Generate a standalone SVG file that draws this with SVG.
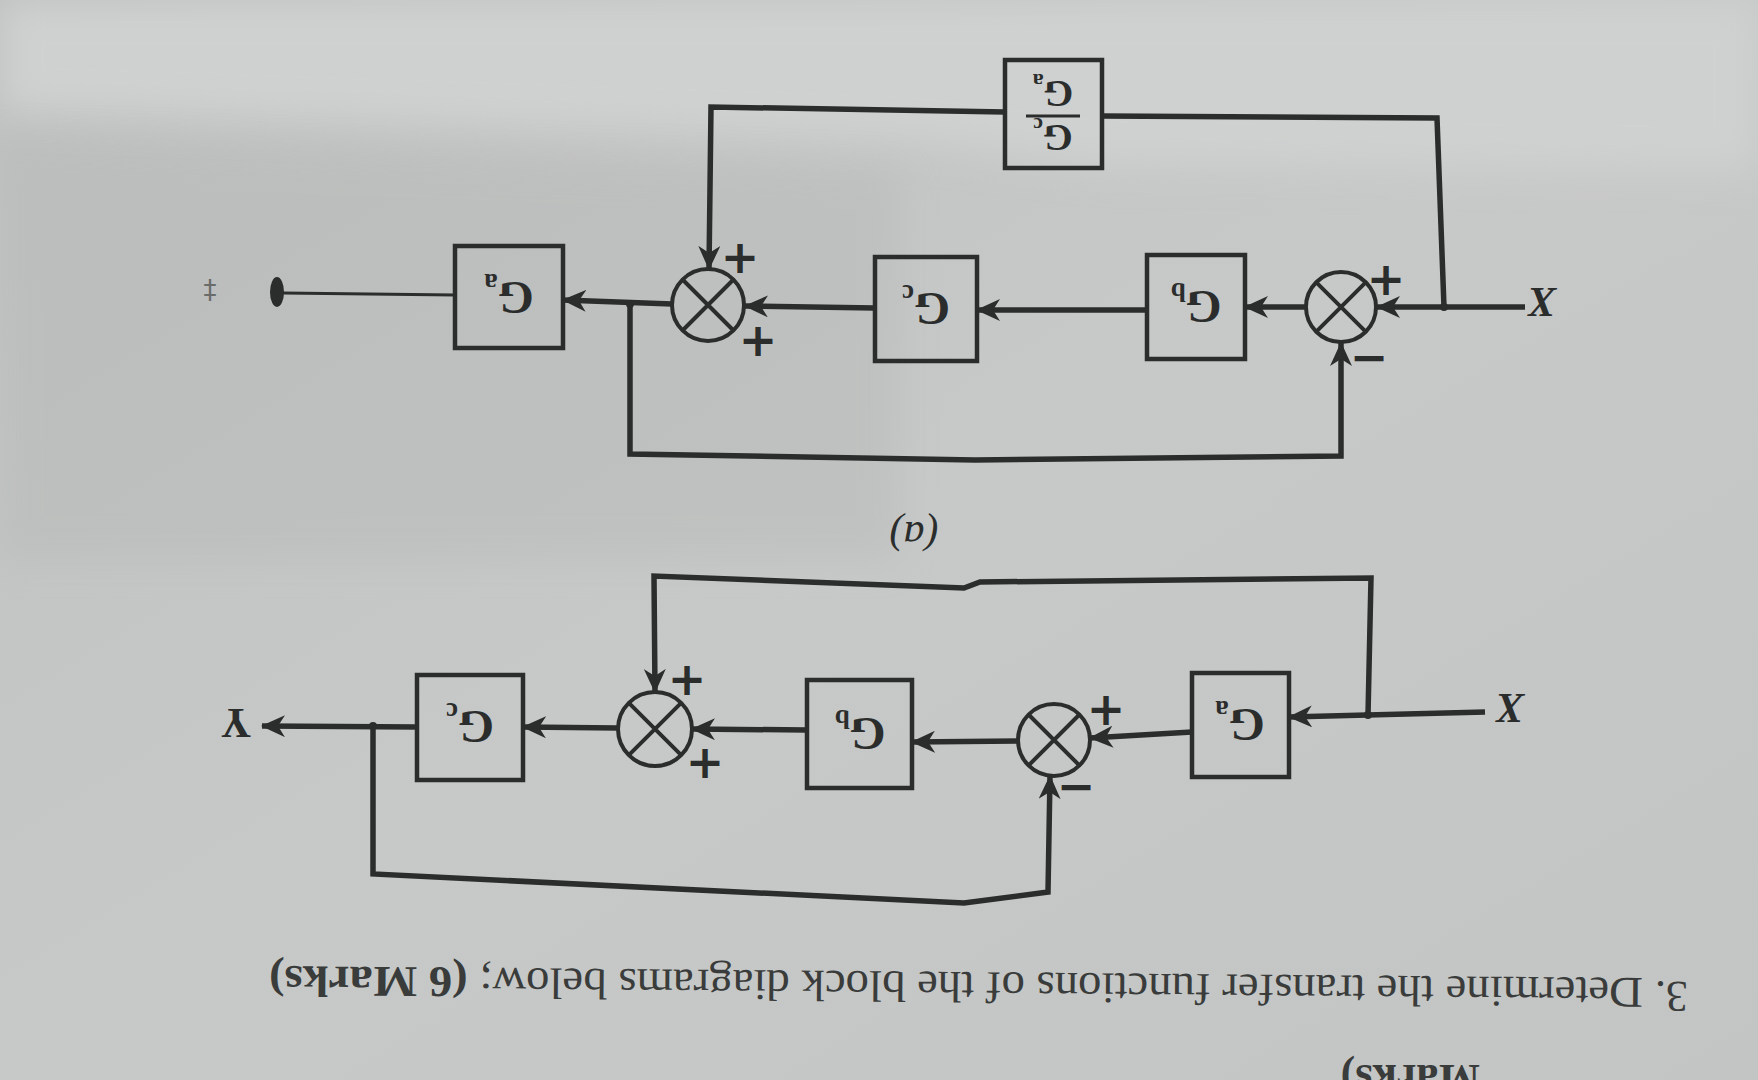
<svg xmlns="http://www.w3.org/2000/svg" width="1758" height="1080" viewBox="0 0 1758 1080">
<defs>
<linearGradient id="bg" x1="0" y1="0" x2="1" y2="1">
<stop offset="0" stop-color="#bfc1c0"/>
<stop offset="0.5" stop-color="#c7c9c8"/>
<stop offset="1" stop-color="#c3c5c4"/>
</linearGradient>
<filter id="blur" x="-10%" y="-50%" width="120%" height="200%"><feGaussianBlur stdDeviation="18"/></filter>
<marker id="ah" viewBox="0 0 24 22" refX="23" refY="11" markerWidth="24" markerHeight="22" markerUnits="userSpaceOnUse" orient="auto">
<path d="M0,0 L24,11 L0,22 L7,11 z" fill="#2b2d2c"/>
</marker>
<style>
.ln{fill:none;stroke:#2b2d2c;stroke-width:5.5;stroke-linejoin:miter}
.thin{fill:none;stroke:#2b2d2c;stroke-width:3}
.box{fill:none;stroke:#2b2d2c;stroke-width:4.5}
.sum{fill:none;stroke:#2b2d2c;stroke-width:4}
.lbl{font-family:"Liberation Serif",serif;font-weight:bold;font-size:46px;fill:#2b2d2c;text-anchor:middle}
.sub{font-size:27px}
.sign{font-family:"DejaVu Sans",sans-serif;font-weight:bold;font-size:46px;fill:#2b2d2c;text-anchor:middle;dominant-baseline:central}
.var{font-family:"Liberation Serif",serif;font-style:italic;font-weight:bold;font-size:42px;fill:#2b2d2c;text-anchor:middle}
.txt{font-family:"Liberation Serif",serif;font-size:44px;fill:#3a3c3b}
.dot{fill:#2b2d2c}
</style>
</defs>

<!-- background -->
<rect x="0" y="0" width="1758" height="1080" fill="url(#bg)"/>
<path d="M0,0 H1758 V170 L1100,165 L900,140 L0,110 Z" fill="#cfd1d0" filter="url(#blur)"/>
<path d="M0,140 L900,170 L900,560 L0,560 Z" fill="#b3b5b4" opacity="0.35" filter="url(#blur)"/>

<!-- ===== Top diagram ===== -->
<g id="top-Ga">
<rect class="box" x="455" y="246" width="108" height="102"/>
<text class="lbl" transform="rotate(180 509 298)" x="509" y="314">G<tspan class="sub" dy="8">a</tspan></text>
</g>
<g id="top-J2">
<circle class="sum" cx="708" cy="305" r="36"/>
<path class="sum" d="M682.5,279.5 L733.5,330.5 M733.5,279.5 L682.5,330.5"/>
</g>
<g id="top-Gc">
<rect class="box" x="875" y="257" width="102" height="104"/>
<text class="lbl" transform="rotate(180 926 309)" x="926" y="325">G<tspan class="sub" dy="8">c</tspan></text>
</g>
<g id="top-Gb">
<rect class="box" x="1147" y="255" width="98" height="104"/>
<text class="lbl" transform="rotate(180 1196 307)" x="1196" y="323">G<tspan class="sub" dy="8">b</tspan></text>
</g>
<g id="top-J1">
<circle class="sum" cx="1341" cy="307" r="35"/>
<path class="sum" d="M1316.3,282.3 L1365.7,331.7 M1365.7,282.3 L1316.3,331.7"/>
</g>
<g id="top-GcGa">
<rect class="box" x="1005" y="60" width="97" height="108"/>
<g transform="rotate(180 1053 116)">
<line x1="1026" y1="116" x2="1080" y2="116" stroke="#2b2d2c" stroke-width="3"/>
<text class="lbl" style="font-size:38px" x="1053" y="107">G<tspan class="sub" style="font-size:22px" dy="7">c</tspan></text>
<text class="lbl" style="font-size:38px" x="1053" y="151">G<tspan class="sub" style="font-size:22px" dy="7">a</tspan></text>
</g>
</g>
<g id="top-output">
<ellipse class="dot" cx="277" cy="292" rx="7" ry="15"/>
</g>

<g id="top-connectors">
<line class="ln" x1="1525" y1="307" x2="1377" y2="307" marker-end="url(#ah)"/>
<line class="ln" x1="1306" y1="307" x2="1245" y2="307" marker-end="url(#ah)"/>
<line class="ln" x1="1147" y1="310" x2="977" y2="310" marker-end="url(#ah)"/>
<line class="ln" x1="875" y1="308" x2="745" y2="306" marker-end="url(#ah)"/>
<line class="ln" x1="672" y1="304" x2="563" y2="300" marker-end="url(#ah)"/>
<line class="thin" x1="455" y1="295" x2="283" y2="293"/>
<polyline class="ln" points="630,304 630,454 975,460 1341,456 1341,343" marker-end="url(#ah)"/>
<polyline class="ln" points="1444,307 1437,118 1102,116"/>
<polyline class="ln" points="1005,112 711,107 709,269" marker-end="url(#ah)"/>
<circle class="dot" cx="630" cy="304" r="4"/>
<circle class="dot" cx="1444" cy="307" r="4"/>
</g>

<g id="top-labels">
<text class="var" transform="rotate(180 1542 303)" x="1542" y="318">X</text>
<text class="sign" x="1386" y="279">+</text>
<text class="sign" x="1369" y="357">−</text>
<text class="sign" x="740" y="257">+</text>
<text class="sign" x="758" y="340">+</text>
<text transform="rotate(180 210 291)" x="210" y="301" style="font-family:'DejaVu Sans',sans-serif;font-size:26px;fill:#6a6c6b;text-anchor:middle">‡</text>
<text class="var" style="font-weight:normal" transform="rotate(180 914 536)" x="914" y="550">(a)</text>
</g>

<!-- ===== Bottom diagram ===== -->
<g id="bot-Gc">
<rect class="box" x="417" y="675" width="106" height="105"/>
<text class="lbl" transform="rotate(180 470 727)" x="470" y="743">G<tspan class="sub" dy="8">c</tspan></text>
</g>
<g id="bot-J2">
<circle class="sum" cx="655" cy="729" r="37"/>
<path class="sum" d="M628.8,702.8 L681.2,755.2 M681.2,702.8 L628.8,755.2"/>
</g>
<g id="bot-Gb">
<rect class="box" x="807" y="680" width="105" height="108"/>
<text class="lbl" transform="rotate(180 860 734)" x="860" y="750">G<tspan class="sub" dy="8">b</tspan></text>
</g>
<g id="bot-J1">
<circle class="sum" cx="1054" cy="740" r="36"/>
<path class="sum" d="M1028.5,714.5 L1079.5,765.5 M1079.5,714.5 L1028.5,765.5"/>
</g>
<g id="bot-Ga">
<rect class="box" x="1192" y="673" width="97" height="104"/>
<text class="lbl" transform="rotate(180 1240 725)" x="1240" y="741">G<tspan class="sub" dy="8">a</tspan></text>
</g>

<g id="bot-connectors">
<line class="ln" x1="1485" y1="712" x2="1289" y2="717" marker-end="url(#ah)"/>
<line class="ln" x1="1192" y1="732" x2="1090" y2="738" marker-end="url(#ah)"/>
<line class="ln" x1="1018" y1="741" x2="912" y2="742" marker-end="url(#ah)"/>
<line class="ln" x1="807" y1="730" x2="692" y2="729" marker-end="url(#ah)"/>
<line class="ln" x1="618" y1="728" x2="523" y2="727" marker-end="url(#ah)"/>
<line class="ln" x1="417" y1="727" x2="262" y2="726" marker-end="url(#ah)"/>
<polyline class="ln" points="373,726 373,874 964,903 1048,892 1050,776" marker-end="url(#ah)"/>
<polyline class="ln" points="1368,715 1371,578 980,582 964,588 654,576 655,692" marker-end="url(#ah)"/>
<circle class="dot" cx="373" cy="726" r="4"/>
<circle class="dot" cx="1368" cy="715" r="4"/>
</g>

<g id="bot-labels">
<text class="var" transform="rotate(180 1510 709)" x="1510" y="724">X</text>
<text class="var" style="font-style:normal" transform="rotate(180 236 724)" x="236" y="739">Y</text>
<text class="sign" x="687" y="679">+</text>
<text class="sign" x="705" y="762">+</text>
<text class="sign" x="1106" y="709">+</text>
<text class="sign" x="1076" y="786">−</text>
</g>

<!-- question text (upside down) -->
<g id="question">
<text class="txt" transform="rotate(180.5 1688 982)" x="1688" y="982">3.</text>
<text class="txt" transform="rotate(180.5 1643 978)" x="1643" y="978" textLength="1374" lengthAdjust="spacingAndGlyphs">Determine the transfer functions of the block diagrams below; <tspan font-weight="bold">(6 Marks)</tspan></text>
<text class="txt" transform="rotate(180 1480 1065)" x="1480" y="1065" font-weight="bold">Marks)</text>
</g>
</svg>
